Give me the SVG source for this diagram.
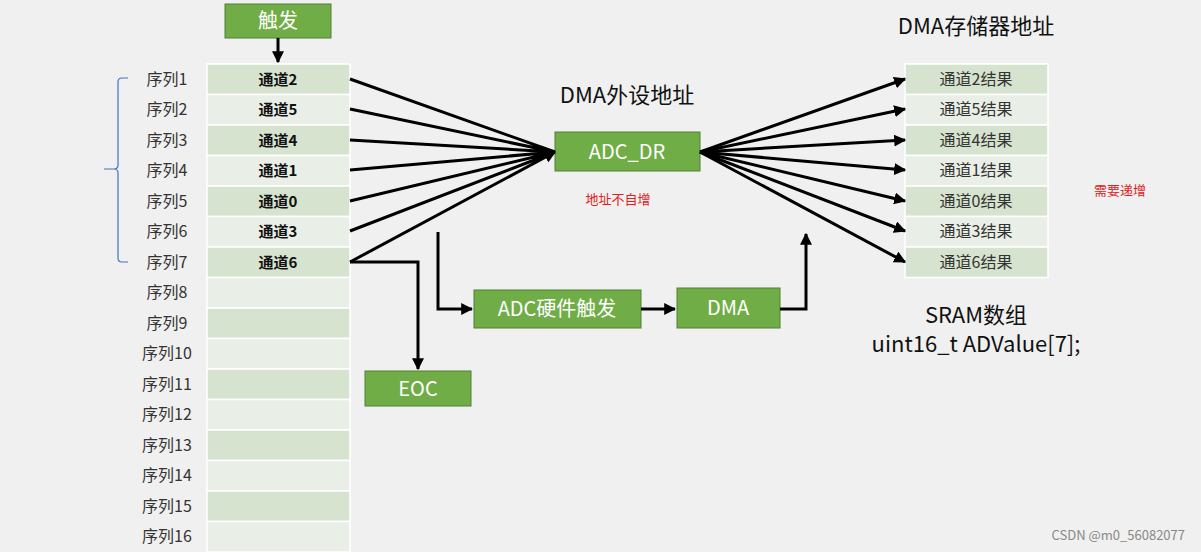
<svg xmlns="http://www.w3.org/2000/svg" width="1201" height="552" viewBox="0 0 1201 552">
<style>
text{font-family:"Noto Sans CJK SC","Liberation Sans",sans-serif}
.lbl{font-size:16px;fill:#333;text-anchor:middle}
.cell{font-size:15px;font-weight:bold;fill:#111;text-anchor:middle}
.d{fill:#d6e3cf;stroke:#fff;stroke-width:1.5}
.l{fill:#e9efe6;stroke:#fff;stroke-width:1.5}
.g{fill:#70ad47;stroke:#507e32;stroke-width:1}
.gt{font-size:20px;fill:#fff;text-anchor:middle}
.big{font-size:22px;fill:#111;text-anchor:middle}
.red{font-size:13px;fill:#e02020;text-anchor:middle}
.c{stroke:#000;stroke-width:3;fill:none}
</style>
<defs><marker id="a" viewBox="0 0 10 10" refX="9" refY="5" markerWidth="4" markerHeight="4" orient="auto"><path d="M0,0L10,5L0,10z" fill="#000"/></marker></defs>
<rect width="1201" height="552" fill="#f0f0f0"/>
<g id="seq">
<rect class="d" x="207" y="64" width="143" height="30.5"/><rect class="l" x="207" y="94.5" width="143" height="30.5"/>
<rect class="d" x="207" y="125" width="143" height="30.5"/><rect class="l" x="207" y="155.5" width="143" height="30.5"/>
<rect class="d" x="207" y="186" width="143" height="30.5"/><rect class="l" x="207" y="216.5" width="143" height="30.5"/>
<rect class="d" x="207" y="247" width="143" height="30.5"/><rect class="l" x="207" y="277.5" width="143" height="30.5"/>
<rect class="d" x="207" y="308" width="143" height="30.5"/><rect class="l" x="207" y="338.5" width="143" height="30.5"/>
<rect class="d" x="207" y="369" width="143" height="30.5"/><rect class="l" x="207" y="399.5" width="143" height="30.5"/>
<rect class="d" x="207" y="430" width="143" height="30.5"/><rect class="l" x="207" y="460.5" width="143" height="30.5"/>
<rect class="d" x="207" y="491" width="143" height="30.5"/><rect class="l" x="207" y="521.5" width="143" height="30.5"/>
<text class="cell" x="278" y="85">通道2</text><text class="cell" x="278" y="115">通道5</text>
<text class="cell" x="278" y="146">通道4</text><text class="cell" x="278" y="176">通道1</text>
<text class="cell" x="278" y="207">通道0</text><text class="cell" x="278" y="237">通道3</text>
<text class="cell" x="278" y="268">通道6</text>
<text class="lbl" x="167" y="85">序列1</text><text class="lbl" x="167" y="115">序列2</text>
<text class="lbl" x="167" y="146">序列3</text><text class="lbl" x="167" y="176">序列4</text>
<text class="lbl" x="167" y="207">序列5</text><text class="lbl" x="167" y="237">序列6</text>
<text class="lbl" x="167" y="268">序列7</text><text class="lbl" x="167" y="298">序列8</text>
<text class="lbl" x="167" y="329">序列9</text><text class="lbl" x="167" y="359">序列10</text>
<text class="lbl" x="167" y="390">序列11</text><text class="lbl" x="167" y="420">序列12</text>
<text class="lbl" x="167" y="451">序列13</text><text class="lbl" x="167" y="481">序列14</text>
<text class="lbl" x="167" y="512">序列15</text><text class="lbl" x="167" y="542">序列16</text>
<path d="M128,78H122Q118,78 118,82V165Q118,169 114,169H104M114,169Q118,169 118,173V258Q118,262 122,262H128" fill="none" stroke="#4472c4" stroke-width="1.2"/>
</g>
<g id="res">
<rect class="d" x="905" y="64" width="143" height="30.5"/><rect class="l" x="905" y="94.5" width="143" height="30.5"/>
<rect class="d" x="905" y="125" width="143" height="30.5"/><rect class="l" x="905" y="155.5" width="143" height="30.5"/>
<rect class="d" x="905" y="186" width="143" height="30.5"/><rect class="l" x="905" y="216.5" width="143" height="30.5"/>
<rect class="d" x="905" y="247" width="143" height="30.5"/>
<text class="lbl" x="976" y="85" fill="#111">通道2结果</text><text class="lbl" x="976" y="115">通道5结果</text>
<text class="lbl" x="976" y="146">通道4结果</text><text class="lbl" x="976" y="176">通道1结果</text>
<text class="lbl" x="976" y="207">通道0结果</text><text class="lbl" x="976" y="237">通道3结果</text>
<text class="lbl" x="976" y="268">通道6结果</text>
</g>
<g id="trig"><rect class="g" x="225" y="4" width="106" height="34"/><text class="gt" x="278" y="28">触发</text></g>
<g id="adcdr"><rect class="g" x="555" y="132" width="145" height="39"/><text class="gt" x="627" y="159">ADC_DR</text></g>
<g id="adchw"><rect class="g" x="474" y="290" width="167" height="38"/><text class="gt" x="557" y="316">ADC硬件触发</text></g>
<g id="dma"><rect class="g" x="677" y="288" width="103" height="40"/><text class="gt" x="728" y="315">DMA</text></g>
<g id="eoc"><rect class="g" x="365" y="371" width="106" height="35"/><text class="gt" x="418" y="396">EOC</text></g>
<g id="texts">
<text class="big" x="627" y="103">DMA外设地址</text>
<text class="big" x="976" y="34">DMA存储器地址</text>
<text class="big" x="976" y="323">SRAM数组</text>
<text class="big" x="976" y="352">uint16_t ADValue[7];</text>
<text class="red" x="618" y="204">地址不自增</text>
<text class="red" x="1120" y="195">需要递增</text>
<text x="1185" y="540" font-size="13" fill="#888" text-anchor="end">CSDN @m0_56082077</text>
</g>
<g id="connectors" class="c">
<path class="c" d="M278,38V62" marker-end="url(#a)"/>
<path class="c" d="M350,79L555,152M350,109L555,152M350,140L555,152M350,170L555,152M350,201L555,152M350,231L555,152M350,262L555,152" marker-end="url(#a)"/>
<path class="c" d="M700,152L905,79" marker-end="url(#a)"/><path class="c" d="M700,152L905,109" marker-end="url(#a)"/>
<path class="c" d="M700,152L905,140" marker-end="url(#a)"/><path class="c" d="M700,152L905,170" marker-end="url(#a)"/>
<path class="c" d="M700,152L905,201" marker-end="url(#a)"/><path class="c" d="M700,152L905,231" marker-end="url(#a)"/>
<path class="c" d="M700,152L905,262" marker-end="url(#a)"/>
<path class="c" d="M350,262H418V369" marker-end="url(#a)"/>
<path class="c" d="M438,232V309H472" marker-end="url(#a)"/>
<path class="c" d="M641,309H675" marker-end="url(#a)"/>
<path class="c" d="M780,309H806V234" marker-end="url(#a)"/>
</g>
</svg>
